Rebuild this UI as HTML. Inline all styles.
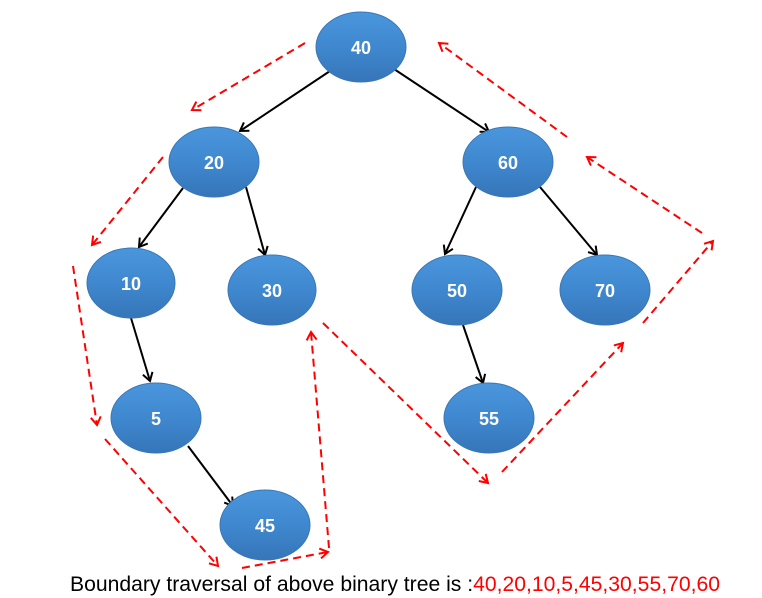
<!DOCTYPE html>
<html><head><meta charset="utf-8"><style>
html,body{margin:0;padding:0;background:#fff;}
svg{display:block;}
</style></head><body>
<svg width="762" height="598" viewBox="0 0 762 598" xmlns="http://www.w3.org/2000/svg">
<defs>
<linearGradient id="g" x1="0" y1="0" x2="0" y2="1">
<stop offset="0" stop-color="#4a96dc"/><stop offset="0.5" stop-color="#3f88cf"/><stop offset="1" stop-color="#3675b8"/>
</linearGradient>
<marker id="ab" markerWidth="12" markerHeight="12" refX="10" refY="6" orient="auto" markerUnits="userSpaceOnUse">
<path d="M2,1 L10,6 L2,11" fill="none" stroke="#000" stroke-width="2"/></marker>
<marker id="ar" markerWidth="12" markerHeight="12" refX="10" refY="6" orient="auto" markerUnits="userSpaceOnUse">
<path d="M2,1 L10,6 L2,11" fill="none" stroke="#f00" stroke-width="2"/></marker>
</defs>
<g stroke="#000" stroke-width="2" marker-end="url(#ab)">
<line x1="330" y1="71" x2="240" y2="131"/>
<line x1="394" y1="69" x2="489" y2="132"/>
<line x1="183" y1="188" x2="139" y2="247"/>
<line x1="246" y1="187" x2="265" y2="255"/>
<line x1="476" y1="187" x2="445" y2="254"/>
<line x1="540" y1="187" x2="597" y2="255"/>
<line x1="131" y1="318" x2="150" y2="381"/>
<line x1="188" y1="446" x2="233" y2="506"/>
<line x1="463" y1="325" x2="483" y2="383"/>
</g>
<g stroke="#f00" stroke-width="2" stroke-dasharray="8,5" fill="none" marker-end="url(#ar)">
<line x1="305" y1="43" x2="192" y2="110"/>
<line x1="163" y1="157" x2="92" y2="245"/>
<line x1="73" y1="266" x2="97" y2="425"/>
<line x1="105" y1="439" x2="218" y2="566"/>
<line x1="242" y1="568" x2="328" y2="552"/>
<line x1="329" y1="548" x2="311" y2="332"/>
<line x1="323" y1="323" x2="488" y2="483"/>
<line x1="502" y1="472" x2="623" y2="343"/>
<line x1="643" y1="323" x2="713" y2="241"/>
<line x1="702" y1="233" x2="587" y2="157"/>
<line x1="567" y1="137" x2="439" y2="43"/>
</g>
<g fill="url(#g)" stroke="#3a78b5" stroke-width="1">
<ellipse cx="361" cy="47" rx="45" ry="35"/>
<ellipse cx="214" cy="162" rx="45" ry="35"/>
<ellipse cx="508" cy="162" rx="45" ry="35"/>
<ellipse cx="131" cy="283" rx="44" ry="35"/>
<ellipse cx="272" cy="290" rx="44" ry="35"/>
<ellipse cx="457" cy="290" rx="45" ry="35"/>
<ellipse cx="605" cy="290" rx="45" ry="35"/>
<ellipse cx="156" cy="418" rx="45" ry="35"/>
<ellipse cx="489" cy="418" rx="45" ry="35"/>
<ellipse cx="265" cy="525" rx="45" ry="35"/>
</g>
<g fill="#fff" font-family="Liberation Sans, sans-serif" font-size="18" font-weight="bold" text-anchor="middle">
<text x="361" y="54">40</text>
<text x="214" y="169">20</text>
<text x="508" y="169">60</text>
<text x="131" y="290">10</text>
<text x="272" y="297">30</text>
<text x="457" y="297">50</text>
<text x="605" y="297">70</text>
<text x="156" y="425">5</text>
<text x="489" y="425">55</text>
<text x="265" y="532">45</text>
</g>
<text x="70" y="591" font-family="Liberation Sans Narrow, Liberation Sans, sans-serif" font-size="21" textLength="650" lengthAdjust="spacingAndGlyphs" fill="#000">Boundary traversal of above binary tree is :<tspan fill="#f00">40,20,10,5,45,30,55,70,60</tspan></text>
</svg>
</body></html>
